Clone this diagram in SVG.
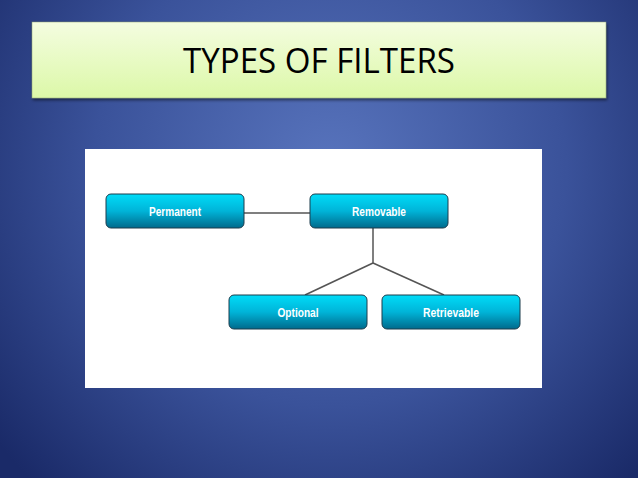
<svg xmlns="http://www.w3.org/2000/svg" width="638" height="478" viewBox="0 0 638 478">
<defs>
<radialGradient id="bg" cx="330" cy="170" r="430" gradientUnits="userSpaceOnUse">
<stop offset="0" stop-color="#5874bd"/>
<stop offset="0.55" stop-color="#3a529a"/>
<stop offset="1" stop-color="#1a2a68"/>
</radialGradient>
<linearGradient id="tg" x1="0" y1="0" x2="0" y2="1">
<stop offset="0" stop-color="#f4fde0"/>
<stop offset="1" stop-color="#dcf8a8"/>
</linearGradient>
<linearGradient id="ng" x1="0" y1="0" x2="0" y2="1">
<stop offset="0" stop-color="#00dcf8"/>
<stop offset="0.5" stop-color="#00b4d8"/>
<stop offset="1" stop-color="#006a8c"/>
</linearGradient>
<filter id="sh" x="-5%" y="-10%" width="110%" height="130%">
<feDropShadow dx="1" dy="2" stdDeviation="1.5" flood-color="#000" flood-opacity="0.5"/>
</filter>
</defs>
<style>
.node rect{fill:url(#ng);stroke:#1d3c4c;stroke-width:1}
.node text{font-family:"Liberation Sans",Arial,sans-serif;font-weight:bold;font-size:13px;fill:#ffffff;text-anchor:middle}
.conn line{stroke:#555555;stroke-width:1.5}
</style>
<rect x="0" y="0" width="638" height="478" fill="url(#bg)"/>
<g id="title">
<rect x="32" y="22" width="574" height="76" fill="url(#tg)" stroke="#8aa070" stroke-width="0.5" filter="url(#sh)"/>
<text x="319" y="73" font-family="'Open Sans','Liberation Sans',sans-serif" font-size="35" fill="#000" text-anchor="middle" textLength="272" lengthAdjust="spacingAndGlyphs">TYPES OF FILTERS</text>
</g>
<rect id="panel" x="85" y="149" width="457" height="239" fill="#ffffff"/>
<g id="connectors" class="conn">
<line x1="244" y1="213" x2="310" y2="213"/>
<line x1="373" y1="228" x2="373" y2="263"/>
<line x1="373" y1="263" x2="305" y2="295"/>
<line x1="373" y1="263" x2="444" y2="295"/>
</g>
<g id="permanent" class="node">
<rect x="106" y="194" width="138" height="34" rx="5"/>
<text x="175" y="216" textLength="52" lengthAdjust="spacingAndGlyphs">Permanent</text>
</g>
<g id="removable" class="node">
<rect x="310" y="194" width="138" height="34" rx="5"/>
<text x="379" y="216" textLength="54" lengthAdjust="spacingAndGlyphs">Removable</text>
</g>
<g id="optional" class="node">
<rect x="229" y="295" width="138" height="34" rx="5"/>
<text x="298" y="317" textLength="41" lengthAdjust="spacingAndGlyphs">Optional</text>
</g>
<g id="retrievable" class="node">
<rect x="382" y="295" width="138" height="34" rx="5"/>
<text x="451" y="317" textLength="56" lengthAdjust="spacingAndGlyphs">Retrievable</text>
</g>
</svg>
